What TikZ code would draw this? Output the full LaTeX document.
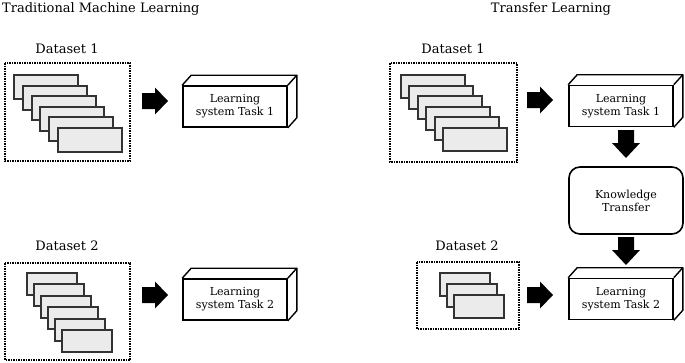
\documentclass[tikz,border=0pt]{standalone}
\usepackage{fontspec}
\setmainfont{DejaVu Serif}
\usetikzlibrary{calc}
\definecolor{cardfill}{HTML}{EBEBEB}
\definecolor{cardline}{HTML}{333333}
\tikzset{
  x=1pt,y=-1pt,
  titletext/.style={inner sep=0pt,anchor=base,font=\fontsize{13}{15}\selectfont},
  dslabel/.style={inner sep=0pt,anchor=base,font=\fontsize{13}{15}\selectfont},
  dsbox/.style={draw,dashed,dash pattern=on 1.5pt off 1pt,line width=1.1pt},
  card/.style={draw=cardline,fill=cardfill,line width=1.8pt},
  learnbox/.style={draw,line width=1.6pt,minimum width=104pt,minimum height=41pt,inner sep=0pt,align=center,font=\fontsize{11}{13}\selectfont},
  kbox/.style={draw,line width=1.6pt,rounded corners=11pt,minimum width=114pt,minimum height=67pt,inner sep=0pt,align=center,font=\fontsize{11}{13}\selectfont},
  blockarrow/.style={fill=black,draw=none},
}
\newcommand{\depthfaces}[1]{%
  \draw[line width=1.4pt,line join=round] (#1.north west) -- ++(9,-10) -- ($(#1.north east)+(9,-10)$) -- ($(#1.south east)+(9,-10)$) -- (#1.south east);
  \draw[line width=1.4pt] (#1.north east) -- ++(9,-10);
}
\newcommand{\rarrow}[2]{% left x, center y
  \fill[blockarrow] (#1,#2-8) -- ++(13,0) -- ++(0,-5.5) -- ++(13,13.5) -- ++(-13,13.5) -- ++(0,-5.5) -- ++(-13,0) -- cycle;
}
\newcommand{\darrow}[2]{% center x, top y
  \fill[blockarrow] (#1-8,#2) -- ++(16,0) -- ++(0,13) -- ++(6,0) -- ++(-14,15) -- ++(-14,-15) -- ++(6,0) -- cycle;
}
\begin{document}
\begin{tikzpicture}
\useasboundingbox (0,0) rectangle (685,362);
% titles
\node[titletext,anchor=base west] (t1) at (2,12) {Traditional Machine Learning};
\node[titletext] (t2) at (551,12) {Transfer Learning};
% ---------- left top
\node[dslabel] (d1l) at (67,53) {Dataset 1};
\draw[dsbox] (5,63) rectangle (130,161);
\foreach \cx/\cy in {14/75,23/86,32/96,40/107,49/117,58/128}{
  \draw[card] (\cx,\cy) rectangle ++(64,24);
}
\rarrow{142}{101}
\node[learnbox] (L1) at (235,106.5) {Learning\\system Task 1};
\depthfaces{L1}
% ---------- left bottom
\node[dslabel] (d2l) at (67,250) {Dataset 2};
\draw[dsbox] (5,263) rectangle (130,360);
\foreach \cx/\cy in {27/273,34/284,41/296,48/307,55/319,62/330}{
  \draw[card] (\cx,\cy) rectangle ++(50,22);
}
\rarrow{142}{295}
\node[learnbox] (L2) at (235,299.5) {Learning\\system Task 2};
\depthfaces{L2}
% ---------- right top
\node[dslabel] (d1r) at (453,53) {Dataset 1};
\draw[dsbox] (390,63) rectangle (517,162);
\foreach \cx/\cy in {401/75,409/86,418/96,426/107,435/117,443/128}{
  \draw[card] (\cx,\cy) rectangle ++(64,23);
}
\rarrow{527}{100}
\node[learnbox] (R1) at (621,106) {Learning\\system Task 1};
\depthfaces{R1}
\darrow{626}{130}
\node[kbox] (K) at (626,200.5) {Knowledge\\Transfer};
\darrow{626}{237}
% ---------- right bottom
\node[dslabel] (d2r) at (467,250) {Dataset 2};
\draw[dsbox] (417,262) rectangle (519,329);
\foreach \cx/\cy in {440/273,447/284,454/295}{
  \draw[card] (\cx,\cy) rectangle ++(50,23);
}
\rarrow{527}{295}
\node[learnbox] (R2) at (621,299) {Learning\\system Task 2};
\depthfaces{R2}
\end{tikzpicture}
\end{document}
